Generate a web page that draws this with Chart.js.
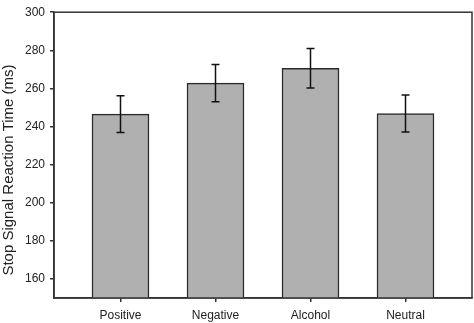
<!DOCTYPE html>
<html>
<head>
<meta charset="utf-8">
<title>Stop Signal Reaction Time</title>
<script src="https://cdn.jsdelivr.net/npm/chart.js@4.4.1/dist/chart.umd.min.js"></script>
<style>
  html, body { margin: 0; padding: 0; background: #fff; }
  canvas { display: block; }
</style>
</head>
<body>
<canvas id="ssrtChart" width="474" height="323"></canvas>
<script>
// Mean SSRT per cue condition, with error bar half-widths (ms)
const categories = ['Positive', 'Negative', 'Alcohol', 'Neutral'];
const meanRT = [246.5, 262.8, 270.6, 246.8];
const errorRT = [9.7, 9.8, 10.4, 9.7];
const yTicks = [160, 180, 200, 220, 240, 260, 280, 300];

const axisColor = '#333';
const textColor = '#222';
const fontFamily = "'Liberation Sans', Arial, sans-serif";

// closes the plot frame (top and right sides) over the bars
const framePlugin = {
    id: 'frame',
    afterDatasetsDraw(chart) {
        const { ctx, chartArea: a } = chart;
        ctx.save();
        ctx.strokeStyle = axisColor;
        ctx.lineWidth = 1.5;
        ctx.strokeRect(a.left, a.top, a.right - a.left, a.bottom - a.top);
        ctx.restore();
    }
};

// vertical error bars with small caps
const errorBarPlugin = {
    id: 'errorBars',
    afterDatasetsDraw(chart) {
        const { ctx } = chart;
        const xs = chart.scales.x;
        const ys = chart.scales.y;
        ctx.save();
        ctx.strokeStyle = '#111';
        ctx.lineWidth = 1.5;
        meanRT.forEach((m, i) => {
            const x = xs.getPixelForValue(i);
            const top = ys.getPixelForValue(m + errorRT[i]);
            const bot = ys.getPixelForValue(m - errorRT[i]);
            ctx.beginPath();
            ctx.moveTo(x, top);
            ctx.lineTo(x, bot);
            ctx.moveTo(x - 4, top);
            ctx.lineTo(x + 4, top);
            ctx.moveTo(x - 4, bot);
            ctx.lineTo(x + 4, bot);
            ctx.stroke();
        });
        ctx.restore();
    }
};

// rotated y axis title, sitting a bit below the plot's middle
const yTitlePlugin = {
    id: 'yTitle',
    afterDraw(chart) {
        const { ctx } = chart;
        ctx.save();
        ctx.translate(9, 170);
        ctx.rotate(-Math.PI / 2);
        ctx.fillStyle = textColor;
        ctx.font = "15px 'Liberation Sans', Arial, sans-serif";
        ctx.textAlign = 'center';
        ctx.textBaseline = 'middle';
        ctx.fillText('Stop Signal Reaction Time (ms)', 0, 0);
        ctx.restore();
    }
};

new Chart(document.getElementById('ssrtChart').getContext('2d'), {
    type: 'bar',
    data: {
        datasets: [{
            data: meanRT.map((v, i) => ({ x: i, y: v })),
            backgroundColor: '#b0b0b0',
            borderColor: '#2a2a2a',
            borderWidth: 1.5,
            barThickness: 57
        }]
    },
    options: {
        responsive: false,
        animation: false,
        devicePixelRatio: 1,
        layout: { padding: { top: 6, right: 2, left: 0, bottom: 0 } },
        plugins: {
            legend: { display: false },
            tooltip: { enabled: false }
        },
        scales: {
            x: {
                type: 'linear',
                min: -0.7,
                max: 3.7,
                offset: false,
                afterBuildTicks: (s) => { s.ticks = categories.map((c, i) => ({ value: i })); },
                afterFit: (s) => { s.height = 25; },
                grid: { offset: false, drawOnChartArea: false, drawTicks: true, tickLength: 4, color: axisColor, lineWidth: 1.5 },
                border: { display: true, color: axisColor, width: 1.5 },
                ticks: {
                    autoSkip: false,
                    maxRotation: 0,
                    padding: 6,
                    color: textColor,
                    font: { family: fontFamily, size: 12 },
                    callback: (v) => categories[v]
                }
            },
            y: {
                min: 150,
                max: 300,
                afterBuildTicks: (s) => { s.ticks = yTicks.map(v => ({ value: v })); },
                afterFit: (s) => { s.width = 54; },
                grid: { drawOnChartArea: false, drawTicks: true, tickLength: 4, color: axisColor, lineWidth: 1.5 },
                border: { display: true, color: axisColor, width: 1.5 },
                ticks: {
                    padding: 5,
                    color: textColor,
                    font: { family: fontFamily, size: 12 }
                }
            }
        }
    },
    plugins: [framePlugin, errorBarPlugin, yTitlePlugin]
});
</script>
</body>
</html>
